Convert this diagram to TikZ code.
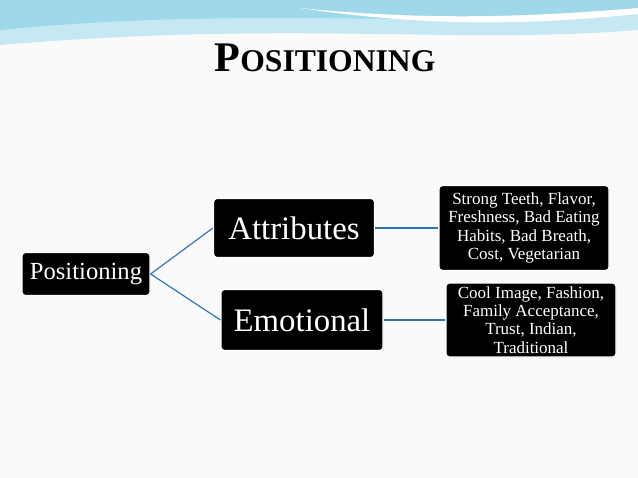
\documentclass[tikz,border=0pt]{standalone}
\usepackage{fontspec}
\setmainfont{Liberation Serif}
\usepackage{tikz}
\usetikzlibrary{positioning}
\definecolor{colorBox}{HTML}{000000}
\definecolor{colorLink}{HTML}{2E75B6}
\definecolor{colorWave}{HTML}{9ED8EA}
\tikzset{
  box/.style={draw=white, line width=1pt, fill=colorBox, rounded corners=3pt, text=white,
    align=center, inner sep=3pt},
  smallbox/.style={box, font=\fontsize{14.5}{15.5}\selectfont},
  link/.style={colorLink, line width=1pt}
}
\begin{document}
\begin{tikzpicture}[x=0.03cm, y=-0.03cm]
        \useasboundingbox (0,0) rectangle (638,478);
        \fill[white!96!gray] (0,0) rectangle (638,478);
        % banner
        \fill[colorWave!60] (0,0) -- (638,0) -- (638,30) .. controls (450,45) and (300,20) .. (0,45) -- cycle;
        \fill[colorWave] (0,0) -- (638,0) -- (638,12) .. controls (450,30) and (250,5) .. (0,30) -- cycle;
        \fill[white] (300,8) .. controls (420,20) and (520,18) .. (638,8) -- (638,14) .. controls (520,26) and (420,26) .. (300,8) -- cycle;
        \node (title) at (325,58) {\bfseries\fontsize{36}{36}\selectfont P\fontsize{27}{36}\selectfont OSITIONING};

        \node[box, font=\fontsize{21}{24}\selectfont, minimum width=128*0.03cm, minimum height=43*0.03cm] (pos) at (86,274)
            {Positioning};
        \node[box, font=\fontsize{28}{32}\selectfont, minimum width=161*0.03cm, minimum height=59*0.03cm] (attr) at (294,228)
            {Attributes};
        \node[box, font=\fontsize{28}{32}\selectfont, minimum width=162*0.03cm, minimum height=61*0.03cm] (emo) at (302,320)
            {Emotional};
        \node[smallbox, minimum width=170*0.03cm, minimum height=85*0.03cm] (attrlist) at (524,228)
            {Strong Teeth, Flavor,\\ Freshness, Bad Eating\\ Habits, Bad Breath,\\ Cost, Vegetarian};
        \node[smallbox, minimum width=170*0.03cm, minimum height=74*0.03cm] (emolist) at (531,320)
            {Cool Image, Fashion,\\ Family Acceptance,\\ Trust, Indian,\\ Traditional};

        \draw[link] (pos.east) -- (attr.west);
        \draw[link] (pos.east) -- (emo.west);
        \draw[link] (attr.east) -- (attrlist.west);
        \draw[link] (emo.east) -- (emolist.west);
\end{tikzpicture}
\end{document}
